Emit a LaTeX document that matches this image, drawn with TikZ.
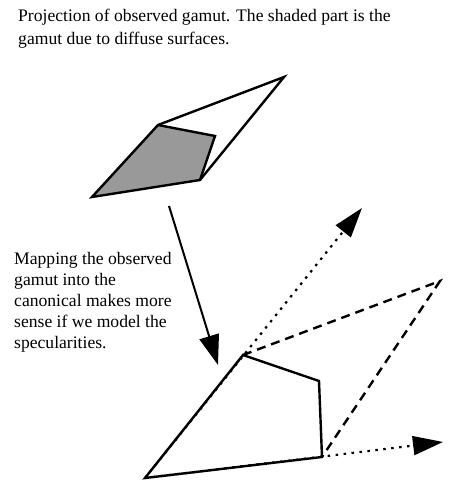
\documentclass[tikz,border=0pt]{standalone}
\usepackage{fontspec}
\setmainfont{Liberation Serif}
\usetikzlibrary{arrows.meta}
\tikzset{
  gamutEdge/.style = {line width=2.4pt, line join=miter, black},
  gamutShade/.style = {fill=black!40},
  specRay/.style = {line width=2.2pt, dash pattern=on 2.5pt off 5.5pt,
    -{Triangle[length=30pt,width=19pt]}},
  specEdge/.style = {line width=2.4pt, dash pattern=on 9pt off 6pt},
  mapArrow/.style = {line width=2pt, -{Triangle[length=30pt,width=20pt]}},
  noteText/.style = {align=left, inner sep=0pt, anchor=base west,
    font=\fontsize{17.6}{21}\selectfont}
    % texte explicatif
}

\begin{document}
\begin{tikzpicture}[x=1pt,y=-1pt]
\useasboundingbox (0,0) rectangle (474,481);
% observed gamut
\coordinate (oA) at (92,197);
\coordinate (oB) at (158,125);
\coordinate (oC) at (215,136);
\coordinate (oD) at (200,180);
\coordinate (oE) at (284,77);
\fill[gamutShade] (oA) -- (oB) -- (oC) -- (oD) -- cycle;
\draw[gamutEdge] (oB) -- (oC) -- (oD);
\draw[gamutEdge] (oA) -- (oB) -- (oE) -- (oD) -- cycle;
\node[noteText, font=\fontsize{17.6}{23}\selectfont] (title) at (18,45)
  {Projection of observed gamut. The shaded part is the\\gamut due to diffuse surfaces.};
% mapping
\coordinate (mS) at (169,206);
\coordinate (mT) at (218,365);
\draw[mapArrow] (mS) -- (mT);
\node[noteText] (note) at (14,348)
  {Mapping the observed\\gamut into the\\canonical makes more\\sense if we model the\\specularities.};
% canonical gamut
\coordinate (cA) at (145,478);
\coordinate (cB) at (243,355);
\coordinate (cC) at (319,381);
\coordinate (cD) at (322,457);
\coordinate (cE) at (440,281);
\coordinate (rU) at (362,208);
\coordinate (rR) at (443,442);
\draw[specRay] (cA) -- (rU);
\draw[specRay] (cA) -- (rR);
\draw[specEdge] (cB) -- (cE) -- (cD);
\draw[gamutEdge] (cA) -- (cB) -- (cC) -- (cD) -- cycle;
\end{tikzpicture}
\end{document}
